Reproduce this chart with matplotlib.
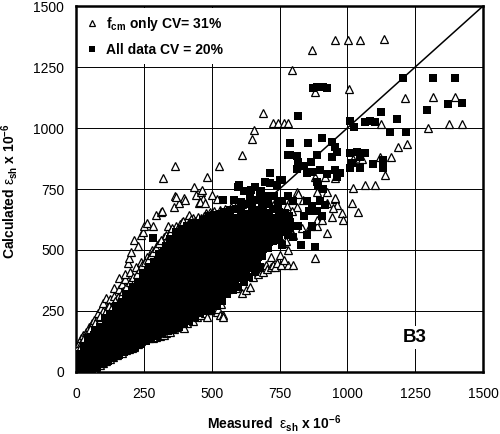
import matplotlib
matplotlib.use('Agg')
import matplotlib.pyplot as plt
import numpy as np

plt.rcParams['font.family'] = ['Liberation Sans', 'DejaVu Sans']
plt.rcParams['mathtext.fontset'] = 'custom'
plt.rcParams['mathtext.rm'] = 'Liberation Sans'
plt.rcParams['mathtext.it'] = 'Liberation Sans'
plt.rcParams['mathtext.bf'] = 'Liberation Sans:bold'

ticks = [0, 250, 500, 750, 1000, 1250, 1500]
tick_labels = ['0', '250', '500', '750', '1000', '1250', '1500']

# measured vs calculated shrinkage, f_cm only model (open triangles)
fcm_only = [
    (3, 8), (10, 3), (14, 40), (20, 5), (25, 10), (28, 70), (35, 12), (40, 18), (50, 15), (55, 25),
    (62, 10), (70, 30), (75, 22), (88, 30), (90, 42), (100, 38), (110, 55), (112, 45), (125, 55),
    (130, 70), (135, 62), (150, 70), (150, 82), (158, 82), (170, 78), (170, 95), (184, 90), (190, 105),
    (195, 95), (205, 100), (210, 115), (214, 102), (228, 115), (228, 152), (240, 125), (240, 140),
    (245, 135), (258, 143), (260, 150), (270, 140), (275, 160), (283, 140), (295, 143), (300, 160),
    (310, 148), (315, 175), (324, 152), (332, 160), (343, 184), (345, 165), (350, 200), (360, 175),
    (369, 254), (375, 185), (380, 230), (385, 190), (394, 225), (398, 180), (410, 200), (420, 215),
    (430, 208), (445, 225), (455, 250), (460, 235), (470, 255), (475, 240), (480, 262), (483, 225),
    (494, 254), (500, 270), (506, 254), (510, 266), (520, 245), (525, 260), (530, 235), (535, 280),
    (541, 234), (543, 225),
    (560, 340), (575, 350), (590, 345), (612, 324), (625, 336), (641, 348), (652, 389), (670, 400),
    (671, 430), (690, 410), (690, 430), (700, 438), (705, 420), (720, 430), (727, 438), (735, 430),
    (741, 447), (755, 438), (782, 438), (800, 438), (720, 470), (750, 480), (765, 460), (780, 500),
    (763, 528), (774, 537), (800, 560), (833, 590), (862, 598), (888, 598), (925, 570), (881, 467),
    (5, 60), (7, 102), (12, 120), (18, 139), (20, 120), (25, 150), (37, 164), (40, 160), (48, 184),
    (58, 200), (60, 195), (66, 213), (80, 225), (80, 240), (92, 262), (100, 250), (100, 283),
    (111, 303), (120, 280), (125, 300), (140, 310), (140, 344), (155, 307), (158, 385), (160, 340),
    (170, 360), (180, 380), (180, 400), (192, 447), (196, 467), (200, 410), (203, 492), (214, 541),
    (220, 430), (228, 516), (240, 450), (240, 560), (247, 574), (251, 598), (260, 470), (260, 610),
    (280, 500), (284, 600), (295, 643), (300, 520), (313, 656), (317, 660), (324, 533), (324, 553),
    (330, 560), (340, 600), (350, 580), (361, 676), (365, 721), (369, 549), (370, 600), (380, 693),
    (390, 615), (398, 713), (405, 611), (410, 625), (417, 643), (430, 630), (435, 758), (442, 725),
    (450, 635), (453, 693), (461, 738), (468, 709), (470, 640), (483, 799), (500, 725), (520, 710),
    (402, 705), (369, 717), (457, 697), (475, 693), (464, 746),
    (15, 100), (30, 140), (50, 175), (70, 200), (90, 230), (110, 250), (120, 270), (130, 260),
    (145, 290), (165, 310), (175, 330), (185, 350), (200, 370), (210, 390), (225, 400), (235, 420),
    (245, 440), (255, 450), (265, 460), (275, 480), (285, 490), (295, 510), (305, 530), (315, 540),
    (335, 545), (345, 570), (355, 590), (375, 590), (385, 605), (395, 620), (415, 615), (425, 625),
    (440, 620), (460, 630), (480, 650), (495, 655), (510, 660), (530, 665), (550, 670), (570, 675),
    (590, 680), (610, 690), (630, 700), (650, 710), (670, 720), (690, 715), (710, 700), (730, 690),
    (321, 795), (365, 844), (527, 844), (612, 889), (649, 955), (656, 992),
    (690, 1062), (727, 1020), (745, 1020), (765, 1022), (782, 1020), (795, 1238), (869, 1320),
    (955, 1361), (1003, 1361), (1047, 1361), (1135, 1364), (881, 1148), (1007, 1160), (1213, 1123),
    (1316, 1127), (1397, 1127), (1298, 1000), (1375, 1016), (1423, 1016), (1124, 1016), (1187, 922),
    (1220, 934), (1021, 873), (1054, 873), (1120, 881), (1161, 881), (1139, 807), (881, 799),
    (918, 799), (955, 795), (1065, 766), (1102, 766), (1021, 754), (814, 738), (789, 705), (837, 705),
    (888, 738), (925, 738), (955, 709), (1017, 693), (1040, 656), (962, 684), (925, 693), (955, 713),
    (947, 672), (980, 652), (984, 623), (943, 635), (888, 623), (907, 623), (818, 730), (777, 680),
    (814, 676), (796, 660),
]

# all data model (filled squares)
all_data = [
    (18, 2), (38, 6), (58, 12), (78, 20), (98, 32), (118, 44), (138, 58), (158, 68), (178, 82),
    (198, 92), (218, 102), (238, 116), (258, 128), (278, 138), (298, 148), (318, 158), (338, 168),
    (358, 175), (378, 185), (398, 195), (418, 208), (438, 225), (458, 240), (478, 250), (498, 255),
    (518, 270), (538, 290), (558, 320), (578, 335), (598, 350), (618, 370), (638, 390), (658, 410),
    (678, 430),
    (9, 6), (12, 28), (8, 50), (13, 74),
    (27, 10), (30, 36), (26, 58), (31, 85), (28, 108),
    (47, 17), (50, 40), (46, 67), (51, 90), (48, 117), (45, 140),
    (67, 27), (70, 53), (66, 76), (71, 102), (68, 125), (65, 151), (70, 170),
    (87, 41), (90, 64), (86, 91), (91, 113), (88, 139), (85, 160), (90, 185),
    (107, 55), (110, 81), (106, 103), (111, 129), (108, 150), (105, 177), (110, 199), (107, 220),
    (127, 69), (130, 94), (126, 119), (131, 141), (128, 167), (125, 189), (130, 215), (127, 236),
    (147, 81), (150, 107), (146, 129), (151, 156), (148, 179), (145, 205), (150, 227), (147, 253),
    (149, 270),
    (167, 95), (170, 121), (166, 143), (171, 169), (168, 191), (165, 217), (170, 239), (167, 265),
    (169, 287),
    (187, 107), (190, 133), (186, 155), (191, 181), (188, 204), (185, 231), (190, 253), (187, 279),
    (189, 301), (186, 320),
    (207, 117), (210, 143), (206, 165), (211, 191), (208, 213), (205, 239), (210, 261), (207, 287),
    (209, 309), (206, 333), (210, 350),
    (227, 131), (230, 157), (226, 179), (231, 205), (228, 227), (225, 253), (230, 275), (227, 301),
    (229, 323), (226, 349), (230, 370),
    (247, 141), (250, 167), (246, 189), (251, 215), (248, 237), (245, 263), (250, 285), (247, 311),
    (249, 333), (246, 359), (250, 381), (247, 400),
    (267, 151), (270, 177), (266, 199), (271, 226), (268, 249), (265, 275), (270, 297), (267, 323),
    (269, 345), (266, 371), (270, 393), (267, 417), (269, 432),
    (287, 161), (290, 187), (286, 209), (291, 236), (288, 259), (285, 285), (290, 307), (287, 333),
    (289, 355), (286, 381), (290, 403), (287, 429), (289, 450),
    (307, 171), (310, 197), (306, 219), (311, 246), (308, 269), (305, 295), (310, 317), (307, 343),
    (309, 365), (306, 391), (310, 413), (307, 439), (309, 461), (306, 485),
    (327, 181), (330, 207), (326, 229), (331, 256), (328, 279), (325, 305), (330, 327), (327, 353),
    (329, 375), (326, 401), (330, 423), (327, 449), (329, 471), (326, 497), (330, 515),
    (347, 187), (350, 213), (346, 235), (351, 263), (348, 285), (345, 311), (350, 333), (347, 359),
    (349, 381), (346, 407), (350, 429), (347, 455), (349, 477), (346, 503), (350, 525), (347, 547),
    (367, 197), (370, 223), (366, 245), (371, 271), (368, 293), (365, 319), (370, 341), (367, 367),
    (369, 389), (366, 415), (370, 437), (367, 463), (369, 485), (366, 511), (370, 533), (367, 559),
    (369, 572),
    (387, 207), (390, 233), (386, 255), (391, 281), (388, 303), (385, 329), (390, 351), (387, 377),
    (389, 399), (386, 425), (390, 447), (387, 473), (389, 495), (386, 521), (390, 543), (387, 569),
    (389, 588),
    (407, 217), (410, 243), (406, 265), (411, 291), (408, 313), (405, 339), (410, 361), (407, 387),
    (409, 409), (406, 435), (410, 457), (407, 483), (409, 505), (406, 531), (410, 553), (407, 579),
    (409, 598),
    (427, 231), (430, 257), (426, 279), (431, 305), (428, 327), (425, 353), (430, 375), (427, 401),
    (429, 423), (426, 449), (430, 471), (427, 497), (429, 519), (426, 545), (430, 567), (427, 593),
    (429, 610),
    (447, 251), (450, 277), (446, 299), (451, 325), (448, 347), (445, 373), (450, 395), (447, 421),
    (449, 443), (446, 469), (450, 491), (447, 517), (449, 539), (446, 565), (450, 587), (447, 612),
    (467, 261), (470, 287), (466, 309), (471, 335), (468, 357), (465, 383), (470, 405), (467, 431),
    (469, 453), (466, 479), (470, 501), (467, 527), (469, 549), (466, 575), (470, 597), (467, 622),
    (487, 267), (490, 293), (486, 315), (491, 341), (488, 363), (485, 389), (490, 411), (487, 437),
    (489, 459), (486, 485), (490, 507), (487, 533), (489, 555), (486, 581), (490, 603), (487, 627),
    (489, 640),
    (507, 287), (510, 313), (506, 335), (511, 361), (508, 383), (505, 409), (510, 431), (507, 457),
    (509, 479), (506, 505), (510, 527), (507, 553), (509, 575), (506, 601), (510, 623), (507, 645),
    (527, 307), (530, 333), (526, 355), (531, 381), (528, 403), (525, 429), (530, 451), (527, 477),
    (529, 499), (526, 525), (530, 547), (527, 573), (529, 595), (526, 621), (530, 648),
    (547, 337), (550, 363), (546, 385), (551, 411), (548, 433), (545, 459), (550, 481), (547, 507),
    (549, 529), (546, 555), (550, 577), (547, 603), (549, 627), (546, 655),
    (567, 351), (570, 377), (566, 399), (571, 425), (568, 447), (565, 473), (570, 495), (567, 521),
    (569, 543), (566, 569), (570, 591), (567, 617), (569, 640), (566, 662),
    (587, 367), (590, 393), (586, 415), (591, 441), (588, 463), (585, 489), (590, 511), (587, 537),
    (589, 559), (586, 585), (590, 607), (587, 633), (589, 668),
    (607, 387), (610, 413), (606, 435), (611, 461), (608, 483), (605, 509), (610, 531), (607, 557),
    (609, 579), (606, 605), (610, 627), (607, 653), (609, 678),
    (627, 407), (630, 433), (626, 455), (631, 481), (628, 503), (625, 529), (630, 551), (627, 577),
    (629, 599), (626, 625), (630, 647), (627, 688),
    (647, 427), (650, 453), (646, 475), (651, 501), (648, 523), (645, 549), (650, 571), (647, 597),
    (649, 619), (646, 645), (650, 667), (647, 698),
    (667, 447), (670, 473), (666, 495), (671, 521), (668, 543), (665, 569), (670, 591), (667, 617),
    (669, 639), (666, 665), (670, 706),
    (687, 477), (690, 503), (686, 525), (691, 551), (688, 573), (685, 599), (690, 621), (687, 647),
    (689, 672), (686, 698),
    (707, 507), (710, 533), (706, 555), (711, 581), (708, 603), (705, 629), (710, 651), (707, 688),
    (727, 537), (730, 563), (726, 585), (731, 611), (728, 633), (725, 668),
    (747, 555), (750, 580), (746, 605), (751, 630), (748, 655), (745, 690),
    (767, 575), (770, 600), (766, 625), (771, 650), (787, 590), (790, 615), (786, 640),
    (284, 549), (542, 705), (584, 705), (597, 758), (601, 766), (608, 697), (645, 746), (678, 733),
    (697, 779), (715, 774), (715, 815), (741, 766), (752, 787), (759, 787), (781, 889), (789, 889),
    (789, 939), (814, 885), (820, 860), (855, 939), (851, 815), (870, 820), (888, 889), (892, 766),
    (900, 828), (906, 959), (918, 684), (925, 812), (943, 881), (943, 943), (955, 828), (955, 922),
    (962, 902), (1010, 836), (1010, 897), (1017, 856), (1036, 902), (1047, 836), (1047, 881),
    (1065, 897), (1095, 852), (1132, 836), (1132, 869), (1010, 1029), (1025, 1004), (1065, 1025),
    (1085, 1027), (1102, 1025), (1124, 1066), (1157, 983), (1183, 1037), (1216, 983), (1206, 1205),
    (1294, 1074), (1316, 1205), (1371, 1098), (1397, 1205), (1423, 1102), (820, 1049), (874, 1165),
    (890, 1170), (910, 1168), (925, 1165), (881, 512), (814, 830), (840, 845), (865, 860),
    (890, 780), (910, 750), (962, 800), (973, 815),
    (700, 720), (680, 740), (640, 720), (620, 740), (660, 760), (730, 720), (760, 700), (780, 720),
    (800, 700), (800, 553), (780, 560), (820, 600), (840, 640), (860, 660), (850, 700), (870, 680),
    (890, 660), (900, 700), (740, 540), (760, 520), (850, 560), (830, 520), (870, 600), (905, 640),
]

fcm = np.array(fcm_only)
alld = np.array(all_data)

fig = plt.figure(figsize=(5, 4.34), dpi=100)
ax = fig.add_axes([0.152, 0.143, 0.814, 0.843])

ax.plot(fcm[:, 0], fcm[:, 1], linestyle='none', marker='^', markersize=5.2,
        markerfacecolor='white', markeredgecolor='black', markeredgewidth=0.9,
        zorder=3, label=r'$\mathbf{f}_{\mathbf{cm}}$ only CV= 31%')
ax.plot(alld[:, 0], alld[:, 1], linestyle='none', marker='s', markersize=5.3,
        color='black', markeredgewidth=0, zorder=4, snap=False, label='All data CV = 20%')
ax.plot([0, 1500], [0, 1500], color='black', lw=1.1, zorder=5)

ax.set_xlim(0, 1500)
ax.set_ylim(0, 1500)
ax.set_xticks(ticks)
ax.set_xticklabels(tick_labels)
ax.set_yticks(ticks)
ax.set_yticklabels(tick_labels)
ax.tick_params(axis='both', length=0, labelsize=10)
ax.tick_params(axis='x', pad=11)
ax.tick_params(axis='y', pad=8.5)
ax.grid(True, color='black', lw=0.7)
ax.set_axisbelow(True)
for sp in ax.spines.values():
    sp.set_linewidth(1.8)

leg = ax.legend(loc='upper left', bbox_to_anchor=(6 / 407, 1 - 2 / 366), borderaxespad=0,
                frameon=True, fancybox=False, edgecolor='none', facecolor='white', framealpha=1,
                handlelength=0.4, handletextpad=0.85, borderpad=0.5, labelspacing=0.7,
                markerscale=0.85, prop={'weight': 'bold', 'size': 10})
leg.set_zorder(2)

ax.text(1250, 140, 'B3', ha='center', va='center', fontsize=13.5, fontweight='bold',
        bbox=dict(facecolor='white', edgecolor='none', pad=2), zorder=6)

fig.text(274 / 500, 1 - 424 / 434, r'Measured  $\varepsilon_{\mathbf{sh}}$ x 10$^{\mathbf{-6}}$',
         ha='center', va='center', fontsize=10, fontweight='bold')
fig.text(10 / 500, 1 - 191 / 434, r'Calculated $\varepsilon_{\mathbf{sh}}$ x 10$^{\mathbf{-6}}$',
         ha='center', va='center', fontsize=10, fontweight='bold', rotation=90)

fig.savefig('out.png', dpi=100)
